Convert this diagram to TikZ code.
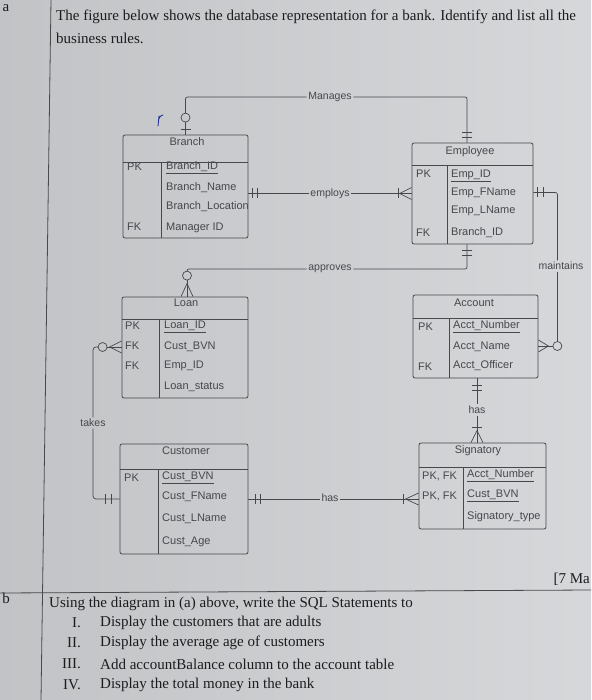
\documentclass[tikz,border=0pt]{standalone}
\usepackage{fontspec}
\setmainfont{Liberation Serif}
\newfontfamily\dfont{Liberation Sans}
\usetikzlibrary{calc}
\definecolor{paperL}{rgb}{0.76,0.765,0.775}
\definecolor{paperR}{rgb}{0.84,0.845,0.855}
\definecolor{ink}{rgb}{0.28,0.28,0.30}
\definecolor{dark}{rgb}{0.11,0.11,0.12}
\definecolor{pen}{rgb}{0.16,0.2,0.6}
\begin{document}
\begin{tikzpicture}[x=1pt,y=-1pt,
  ebox/.style={draw=ink, line width=0.8pt, rounded corners=2pt, inner sep=0pt},
  txt/.style={font=\dfont\fontsize{11}{13}\selectfont, text=ink, inner sep=0pt},
  fld/.style={txt, anchor=west},
  conn/.style={draw=ink, line width=0.7pt},
  lbl/.style={font=\dfont\fontsize{10.5}{12}\selectfont, text=ink, inner sep=1.5pt},
  ptxt/.style={font=\fontsize{15}{17}\selectfont, text=dark, inner sep=0pt},
]
\shade[left color=paperL, right color=paperR] (0,0) rectangle (591,700);
\useasboundingbox (0,0) rectangle (591,700);

% page rules
\draw[dark!80, line width=0.8pt] (51,0) -- (41,700);
\draw[dark!80, line width=0.8pt] (0,593) -- (591,590);

% page text
\node[ptxt] (la) at (6,8) {a};
\node[ptxt] (lb) at (6,598) {b};
\node[ptxt, anchor=east] (mk) at (590,579) {[7 Ma};
\node[ptxt, anchor=west] (q1) at (56,17) {The figure below shows the database representation for a bank. Identify and list all the};
\node[ptxt, anchor=west] (q2) at (56,38) {business rules.};
\node[ptxt, anchor=west] (b0) at (49,604) {Using the diagram in (a) above, write the SQL Statements to};
\node[ptxt, anchor=east] (n1) at (81,623) {I.};
\node[ptxt, anchor=east] (n2) at (81,643) {II.};
\node[ptxt, anchor=east] (n3) at (81,664) {III.};
\node[ptxt, anchor=east] (n4) at (81,685) {IV.};
\node[ptxt, anchor=west] (i1) at (100,623) {Display the customers that are adults};
\node[ptxt, anchor=west] (i2) at (100,643) {Display the average age of customers};
\node[ptxt, anchor=west] (i3) at (100,664) {Add accountBalance column to the account table};
\node[ptxt, anchor=west] (i4) at (100,685) {Display the total money in the bank};

% ---------- entities ----------
% Branch
\node[ebox, minimum width=125, minimum height=103] (branch) at (185.5,186.5) {};
\draw[ink, line width=0.8pt] ($(branch.north west)+(0,28)$) -- ($(branch.north east)+(0,28)$);
\draw[ink, line width=0.8pt] ($(branch.north west)+(39,28)$) -- ($(branch.south west)+(39,0)$);
\node[txt] (branchT) at (187,142) {Branch};
\node[fld] (bpk) at (127,167) {PK};
\node[fld] (bfk) at (127,227) {FK};
\node[fld] (b1) at (166,168) {\underline{Branch\_ID}};
\node[fld] (b2) at (166,188) {Branch\_Name};
\node[fld] (b3) at (166,207) {Branch\_Location};
\node[fld] (b4) at (166,228) {Manager ID};

% Employee
\node[ebox, minimum width=121, minimum height=101] (employee) at (472.5,193.5) {};
\draw[ink, line width=0.8pt] ($(employee.north west)+(0,23)$) -- ($(employee.north east)+(0,23)$);
\draw[ink, line width=0.8pt] ($(employee.north west)+(36,23)$) -- ($(employee.south west)+(36,0)$);
\node[txt] (empT) at (470,152) {Employee};
\node[fld] (epk) at (416,174) {PK};
\node[fld] (efk) at (416,233) {FK};
\node[fld] (e1) at (451,176) {\underline{Emp\_ID}};
\node[fld] (e2) at (451,193) {Emp\_FName};
\node[fld] (e3) at (451,211) {Emp\_LName};
\node[fld] (e4) at (451,233) {Branch\_ID};

% Loan
\node[ebox, minimum width=126, minimum height=101] (loan) at (185,347.5) {};
\draw[ink, line width=0.8pt] ($(loan.north west)+(0,23)$) -- ($(loan.north east)+(0,23)$);
\draw[ink, line width=0.8pt] ($(loan.north west)+(38,23)$) -- ($(loan.south west)+(38,0)$);
\node[txt] (loanT) at (186,303) {Loan};
\node[fld] (lpk) at (125,326) {PK};
\node[fld] (lfk1) at (125,346) {FK};
\node[fld] (lfk2) at (125,366) {FK};
\node[fld] (l1) at (164,327) {\underline{Loan\_ID}};
\node[fld] (l2) at (164,347) {Cust\_BVN};
\node[fld] (l3) at (164,366) {Emp\_ID};
\node[fld] (l4) at (164,387) {Loan\_status};

% Account
\node[ebox, minimum width=125, minimum height=83] (account) at (475.5,336.5) {};
\draw[ink, line width=0.8pt] ($(account.north west)+(0,24)$) -- ($(account.north east)+(0,24)$);
\draw[ink, line width=0.8pt] ($(account.north west)+(37,24)$) -- ($(account.south west)+(37,0)$);
\node[txt] (accT) at (474,303) {Account};
\node[fld] (apk) at (418,327) {PK};
\node[fld] (afk) at (418,367) {FK};
\node[fld] (a1) at (453,327) {\underline{Acct\_Number}};
\node[fld] (a2) at (453,347) {Acct\_Name};
\node[fld] (a3) at (453,366) {Acct\_Officer};

% Customer
\node[ebox, minimum width=128, minimum height=110] (customer) at (184,499) {};
\draw[ink, line width=0.8pt] ($(customer.north west)+(0,26)$) -- ($(customer.north east)+(0,26)$);
\draw[ink, line width=0.8pt] ($(customer.north west)+(39,26)$) -- ($(customer.south west)+(39,0)$);
\node[txt] (custT) at (186,451) {Customer};
\node[fld] (cpk) at (124,478) {PK};
\node[fld] (c1) at (162,478) {\underline{Cust\_BVN}};
\node[fld] (c2) at (162,497) {Cust\_FName};
\node[fld] (c3) at (162,519) {Cust\_LName};
\node[fld] (c4) at (162,542) {Cust\_Age};

% Signatory
\node[ebox, minimum width=127, minimum height=86] (signatory) at (482.5,486) {};
\draw[ink, line width=0.8pt] ($(signatory.north west)+(0,25)$) -- ($(signatory.north east)+(0,25)$);
\draw[ink, line width=0.8pt] ($(signatory.north west)+(45,25)$) -- ($(signatory.south west)+(45,0)$);
\node[txt] (sigT) at (478,451) {Signatory};
\node[fld] (spk1) at (422,476) {PK, FK};
\node[fld] (spk2) at (422,496) {PK, FK};
\node[fld] (s1) at (467,476) {\underline{Acct\_Number}};
\node[fld] (s2) at (467,496) {\underline{Cust\_BVN}};
\node[fld] (s3) at (467,517) {Signatory\_type};

% ---------- connectors (drawn in two parts round their labels) ----------
% Manages
\node[lbl] (manages) at (330,97) {Manages};
\coordinate (mB) at (branch.north);
\coordinate (mE) at ($(employee.north)+(-5.5,0)$);
\coordinate (mBc) at ($(mB)+(0,-17)$);
\draw[conn, rounded corners=2pt] (manages.west) -| ($(mB)+(0,-21.5)$);
\draw[conn] ($(mB)+(0,-12.5)$) -- (mB);
\draw[conn, rounded corners=2pt] (manages.east) -| (mE);
\draw[conn] ($(mB)+(-5,-5)$) -- ($(mB)+(5,-5)$);
\draw[conn] (mBc) circle (4.5);
\draw[conn] ($(mE)+(-5,-10)$) -- ($(mE)+(5,-10)$);
\draw[conn] ($(mE)+(-5,-5)$) -- ($(mE)+(5,-5)$);

% employs
\node[lbl] (employs) at (330,194) {employs};
\coordinate (eB) at (branch.east |- employee.west);
\coordinate (eE) at (employee.west);
\draw[conn] (eB) -- (employs.west |- eB);
\draw[conn] (employs.east |- eE) -- (eE);
\draw[conn] ($(eB)+(4,-5)$) -- ($(eB)+(4,5)$);
\draw[conn] ($(eB)+(9,-5)$) -- ($(eB)+(9,5)$);
\draw[conn] ($(eE)+(-12,0)$) -- ($(eE)+(0,-6)$);
\draw[conn] ($(eE)+(-12,0)$) -- ($(eE)+(0,6)$);
\draw[conn] ($(eE)+(-13,-5)$) -- ($(eE)+(-13,5)$);

% approves
\node[lbl] (approves) at (330,269) {approves};
\coordinate (aE) at ($(employee.south)+(-5.5,0)$);
\coordinate (aL) at ($(loan.north)+(2,0)$);
\coordinate (aLc) at ($(aL)+(0,-21)$);
\draw[conn, rounded corners=2pt] (aE) |- (approves.east);
\draw[conn, rounded corners=2pt] (approves.west) -| ($(aL)+(0,-25.5)$);
\draw[conn] ($(aL)+(0,-16.5)$) -- (aL);
\draw[conn] ($(aE)+(-5,6)$) -- ($(aE)+(5,6)$);
\draw[conn] ($(aE)+(-5,11)$) -- ($(aE)+(5,11)$);
\draw[conn] ($(aL)+(0,-13)$) -- ($(aL)+(-6,0)$);
\draw[conn] ($(aL)+(0,-13)$) -- ($(aL)+(6,0)$);
\draw[conn] (aLc) circle (4.5);

% takes
\node[lbl] (takes) at (93,423) {takes};
\coordinate (tL) at ($(loan.west)+(0,-0.5)$);
\coordinate (tC) at (customer.west);
\coordinate (tLc) at ($(tL)+(-19,0)$);
\draw[conn] (tL) -- ($(tL)+(-14.5,0)$);
\draw[conn, rounded corners=3pt] ($(tL)+(-23.5,0)$) -| (takes.north);
\draw[conn, rounded corners=3pt] (takes.south) |- (tC);
\draw[conn] ($(tL)+(-12,0)$) -- ($(tL)+(0,-6)$);
\draw[conn] ($(tL)+(-12,0)$) -- ($(tL)+(0,6)$);
\draw[conn] (tLc) circle (4.5);
\draw[conn] ($(tC)+(-14,-5)$) -- ($(tC)+(-14,5)$);
\draw[conn] ($(tC)+(-8,-5)$) -- ($(tC)+(-8,5)$);

% has (Customer - Signatory)
\node[lbl] (has1) at (330,498) {has};
\coordinate (hC) at (customer.east);
\coordinate (hS) at (customer.east -| signatory.west);
\draw[conn] (hC) -- (has1.west |- hC);
\draw[conn] (has1.east |- hS) -- (hS);
\draw[conn] ($(hC)+(7,-5)$) -- ($(hC)+(7,5)$);
\draw[conn] ($(hC)+(12,-5)$) -- ($(hC)+(12,5)$);
\draw[conn] ($(hS)+(-13,0)$) -- ($(hS)+(0,-6)$);
\draw[conn] ($(hS)+(-13,0)$) -- ($(hS)+(0,6)$);
\draw[conn] ($(hS)+(-15,-5)$) -- ($(hS)+(-15,5)$);

% has (Account - Signatory)
\node[lbl] (has2) at (477,410) {has};
\coordinate (h2A) at ($(account.south)+(1.5,0)$);
\coordinate (h2S) at (h2A |- signatory.north);
\draw[conn] (h2A) -- (h2A |- has2.north);
\draw[conn] (h2A |- has2.south) -- (h2S);
\draw[conn] ($(h2A)+(-5,7)$) -- ($(h2A)+(5,7)$);
\draw[conn] ($(h2A)+(-5,12)$) -- ($(h2A)+(5,12)$);
\draw[conn] ($(h2S)+(0,-12)$) -- ($(h2S)+(-6,0)$);
\draw[conn] ($(h2S)+(0,-12)$) -- ($(h2S)+(6,0)$);
\draw[conn] ($(h2S)+(-5,-15)$) -- ($(h2S)+(5,-15)$);

% maintains
\node[lbl] (maintains) at (561,266) {maintains};
\coordinate (mtE) at ($(employee.east)+(0,-1)$);
\coordinate (mtA) at ($(account.east)+(0,9.5)$);
\coordinate (mtC) at ($(mtA)+(19,0)$);
\draw[conn, rounded corners=2pt] (mtE) -| (mtC |- maintains.north);
\draw[conn] (mtC |- maintains.south) -- ($(mtC)+(0,-4.5)$);
\draw[conn] (mtA) -- ($(mtA)+(14.5,0)$);
\draw[conn] ($(mtA)+(10,0)$) -- ($(mtA)+(0,-6)$);
\draw[conn] ($(mtA)+(10,0)$) -- ($(mtA)+(0,6)$);
\draw[conn] (mtC) circle (4.5);
\draw[conn] ($(mtE)+(4,-5)$) -- ($(mtE)+(4,5)$);
\draw[conn] ($(mtE)+(10,-5)$) -- ($(mtE)+(10,5)$);

% pen mark
\draw[pen, line width=0.9pt, line cap=round] (158,126) -- (159,116) (159,119) .. controls (160,116) .. (163,115);
\end{tikzpicture}
\end{document}
